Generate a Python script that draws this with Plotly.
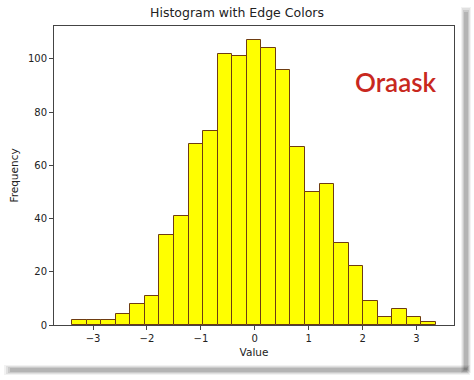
import plotly.graph_objects as go

# Data
bin_start = -3.39
bin_width = 0.27
counts = [2, 2, 2, 4, 8, 11, 34, 41, 68, 73, 102, 101, 107, 104, 96, 67, 50, 53, 31, 22, 9, 3, 6, 3, 1]
x_ticks = [-3, -2, -1, 0, 1, 2, 3]
x_tick_labels = ["\u22123", "\u22122", "\u22121", "0", "1", "2", "3"]
y_ticks = [0, 20, 40, 60, 80, 100]

centers = [bin_start + bin_width * (i + 0.5) for i in range(len(counts))]

W, H = 474, 380
L, R, T, B = 54, 20, 26, 55
pw, ph = W - L - R, H - T - B

def fx(px):
    return (px - L) / pw

def fy(py):
    return (H - B - py) / ph

fig = go.Figure()
fig.add_trace(go.Bar(
    x=centers, y=counts, width=bin_width,
    marker=dict(color="#ffff00", line=dict(color="#6e3c12", width=1)),
    hoverinfo="x+y",
))

axis_common = dict(
    showgrid=False, zeroline=False, showline=True, linecolor="#444444", linewidth=1,
    mirror=True, ticks="outside", ticklen=4, tickcolor="#444444",
    tickfont=dict(family="DejaVu Sans", size=10, color="#222222"),
)

shapes = []
shadow_layers = [(461, 471, 7, 373, 0.05), (462, 470, 8, 372, 0.07), (463, 469, 10, 371, 0.09), (464, 468, 12, 370, 0.11)]
for x0, x1, y0, y1, op in shadow_layers:
    shapes.append(dict(type="rect", xref="paper", yref="paper", x0=fx(x0), x1=fx(x1), y0=fy(y1), y1=fy(y0),
                       fillcolor="rgba(0,0,0,%.2f)" % op, line=dict(width=0), layer="below"))
bottom_layers = [(4, 470, 365, 375, 0.05), (6, 469, 366, 374, 0.07), (8, 468, 367, 373, 0.09), (10, 467, 368, 372, 0.11)]
for x0, x1, y0, y1, op in bottom_layers:
    shapes.append(dict(type="rect", xref="paper", yref="paper", x0=fx(x0), x1=fx(x1), y0=fy(y1), y1=fy(y0),
                       fillcolor="rgba(0,0,0,%.2f)" % op, line=dict(width=0), layer="below"))

fig.update_layout(
    width=W, height=H,
    margin=dict(l=L, r=R, t=T, b=B),
    paper_bgcolor="white", plot_bgcolor="white",
    showlegend=False, bargap=0,
    title=dict(text="Histogram with Edge Colors", x=0.5, xanchor="center", y=1 - 13 / H, yanchor="middle",
               font=dict(family="DejaVu Sans", size=12.5, color="#222222")),
    xaxis=dict(range=[-3.725, 3.695], tickvals=x_ticks, ticktext=x_tick_labels,
               title=dict(text="Value", standoff=5, font=dict(family="DejaVu Sans", size=10.5, color="#222222")),
               **axis_common),
    yaxis=dict(range=[0, 112.35], tickvals=y_ticks,
               title=dict(text="Frequency", standoff=7, font=dict(family="DejaVu Sans", size=10.5, color="#222222")),
               **axis_common),
    shapes=shapes,
    annotations=[dict(text="Oraask", xref="paper", yref="paper", x=fx(396), y=fy(82),
                      xanchor="center", yanchor="middle", showarrow=False,
                      font=dict(family="Lato, sans-serif", size=26, color="#c8281e", weight=600))],
)

fig.write_html("out.html")
